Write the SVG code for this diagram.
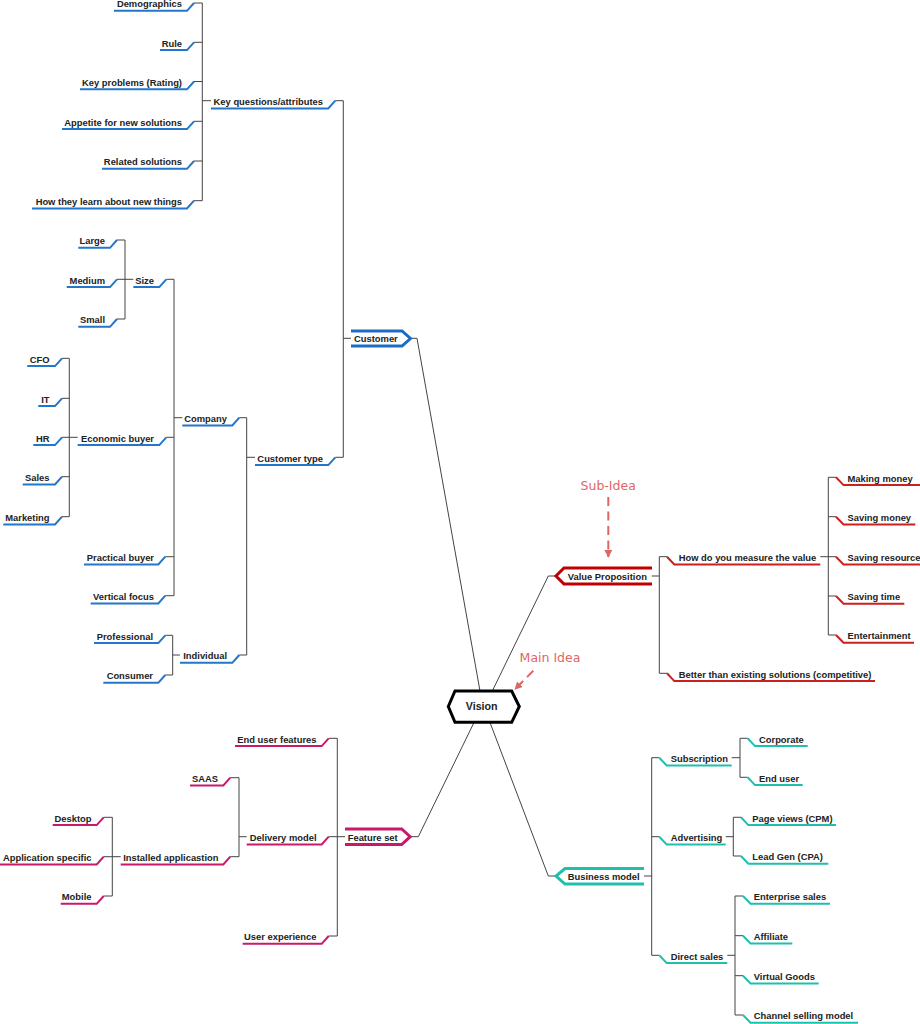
<svg xmlns="http://www.w3.org/2000/svg" width="920" height="1024" viewBox="0 0 920 1024">
<style>
.c{fill:none;stroke:#444;stroke-width:1}
.u{fill:none;stroke-width:2}
.b{stroke:#2277cc}
.r{stroke:#cc1f1f}
.m{stroke:#c8196b}
.t{stroke:#1fbfae}
.s{fill:none;stroke-width:3;stroke-linejoin:miter}
text{font-family:"Liberation Sans",Arial,sans-serif;font-weight:bold;font-size:9.4px;fill:#222}
.e{text-anchor:end}
.a{font-family:"DejaVu Sans",Verdana,sans-serif;font-weight:normal;font-size:12.5px;fill:#e06666;text-anchor:middle}
.d{fill:none;stroke:#e06666;stroke-width:2;stroke-dasharray:9 5.5}
</style>
<defs>
<marker id="ah" viewBox="0 0 10 10" refX="9" refY="5" markerWidth="4" markerHeight="4" orient="auto" markerUnits="strokeWidth">
<path d="M0,0 L10,5 L0,10 z" fill="#e06666"/>
</marker>
</defs>
<rect width="920" height="1024" fill="#fff"/>
<g id="connectors">
<path class="c" d="M480,691 L417,338.3 H411 M492.3,691 L548.3,576 H556 M474,722.5 L418.3,836.7 H410.7 M490,722.5 L548.3,876 H555.7"/>
<path class="c" d="M202.3,3 V200.7 M194,3 H202.3 M194,42.3 H202.3 M194,81.5 H202.3 M194,121.3 H202.3 M194,161 H202.3 M194,200.7 H202.3 M202.3,100.7 H211 M335.3,100.7 H343.3"/>
<path class="c" d="M343.3,100.7 V457.3 M343.3,338.3 H351 M335.3,457.3 H343.3 M246.7,457.3 H255"/>
<path class="c" d="M246.7,417.7 V655 M239.3,417.7 H246.7 M239.3,655 H246.7 M174,417.7 H182.3 M172.7,655 H180"/>
<path class="c" d="M174,279.3 V595.7 M166.3,279.3 H174 M166.3,437.3 H174 M165.3,556.7 H174 M165.3,595.7 H174 M125,279.3 H133.3 M69.3,437.3 H77.7"/>
<path class="c" d="M125,240 V319 M117,240 H125 M117,279.3 H125 M117,319 H125"/>
<path class="c" d="M69.3,358.3 V516.7 M62,358.3 H69.3 M62,398.3 H69.3 M62,437.3 H69.3 M62,476.7 H69.3 M62,516.7 H69.3"/>
<path class="c" d="M172.7,635.3 V675 M165.3,635.3 H172.7 M165.3,675 H172.7"/>
<path class="c" d="M337.3,738.3 V936 M328.7,738.3 H337.3 M328.7,836.7 H345 M328.7,936 H337.3 M239,836.7 H246.7"/>
<path class="c" d="M239,777.7 V856.7 M230.3,777.7 H239 M230.3,856.7 H239 M112.3,856.7 H120.7"/>
<path class="c" d="M112.3,817.3 V896 M103.7,817.3 H112.3 M103.7,856.7 H112.3 M103.7,896 H112.3"/>
<path class="c" d="M651.7,576 H659.3 M659.3,556.7 V673.3 M659.3,556.7 H667 M659.3,673.3 H667 M820.3,556.7 H828.3"/>
<path class="c" d="M828.3,477.3 V635 M828.3,477.3 H836 M828.3,516.7 H836 M828.3,556.7 H836 M828.3,596 H836 M828.3,635 H836"/>
<path class="c" d="M644,876 H651.7 M651.7,757.7 V955.3 M651.7,757.7 H659.3 M651.7,836.7 H659.3 M651.7,955.3 H659.3 M731.7,757.7 H740 M725.7,836.7 H733.3 M727.3,955.3 H735"/>
<path class="c" d="M740,738.3 V777.3 M740,738.3 H747.7 M740,777.3 H747.7 M733.3,817.3 V856 M733.3,817.3 H741 M733.3,856 H741"/>
<path class="c" d="M735,896 V1015 M735,896 H743 M735,935.7 H743 M735,975.7 H743 M735,1015 H743"/>
</g>
<g id="annotations">
<text class="a" x="608.2" y="490">Sub-Idea</text>
<path class="d" d="M608.3,497 V557" marker-end="url(#ah)"/>
<text class="a" x="550" y="662">Main Idea</text>
<path class="d" d="M533.3,670.7 L515,689.3" marker-end="url(#ah)"/>
</g>
<g id="vision">
<polygon points="448.3,706.5 455,691 511.7,691 519.3,706.5 511.7,722.3 455,722.3" fill="#fff" stroke="#000" stroke-width="3"/>
<text x="481.7" y="710.3" text-anchor="middle" style="font-size:10.7px">Vision</text>
</g>
<g id="customer">
<polyline class="s b" points="351,331 402,331 410.5,338.5 402,346 351,346" style="stroke:#1a6cc4"/>
<text x="354" y="342.3">Customer</text>
</g>
<g id="value-proposition">
<polyline class="s" points="652,568 564,568 556,576 564,584 652,584" style="stroke:#c00000"/>
<text x="567.7" y="579.6">Value Proposition</text>
</g>
<g id="feature-set">
<polyline class="s m" points="345,829 401.7,829 410.2,836.7 401.7,844.5 345,844.5"/>
<text x="347.7" y="840.5">Feature set</text>
</g>
<g id="business-model">
<polyline class="s t" points="644,868.5 565,868.5 556,876 565,884 644,884"/>
<text x="567.7" y="879.6">Business model</text>
</g>
<g id="demographics"><path class="u b" d="M114,10.8 H187 L194,3"/><text class="e" x="182" y="7.3">Demographics</text></g>
<g id="rule"><path class="u b" d="M160,50.1 H187 L194,42.3"/><text class="e" x="182" y="46.6">Rule</text></g>
<g id="key-problems"><path class="u b" d="M80,89.3 H187 L194,81.5"/><text class="e" x="182" y="85.8">Key problems (Rating)</text></g>
<g id="appetite"><path class="u b" d="M62,129.1 H187 L194,121.3"/><text class="e" x="182" y="125.6">Appetite for new solutions</text></g>
<g id="related"><path class="u b" d="M102,168.8 H187 L194,161"/><text class="e" x="182" y="165.3">Related solutions</text></g>
<g id="how-they-learn"><path class="u b" d="M32,208.5 H187 L194,200.7"/><text class="e" x="182" y="205">How they learn about new things</text></g>
<g id="key-questions"><path class="u b" d="M211,108.5 H328.3 L335.3,100.7"/><text class="e" x="323" y="105">Key questions/attributes</text></g>
<g id="customer-type"><path class="u b" d="M255,465.1 H328.3 L335.3,457.3"/><text class="e" x="323" y="461.6">Customer type</text></g>
<g id="company"><path class="u b" d="M182.3,425.5 H232.3 L239.3,417.7"/><text class="e" x="227" y="422">Company</text></g>
<g id="individual"><path class="u b" d="M180,662.8 H232.3 L239.3,655"/><text class="e" x="227" y="659.3">Individual</text></g>
<g id="size"><path class="u b" d="M133.3,287.1 H159.3 L166.3,279.3"/><text class="e" x="154" y="283.6">Size</text></g>
<g id="economic-buyer"><path class="u b" d="M77.7,445.1 H159.3 L166.3,437.3"/><text class="e" x="154" y="441.6">Economic buyer</text></g>
<g id="practical-buyer"><path class="u b" d="M84,564.5 H158.3 L165.3,556.7"/><text class="e" x="154" y="561">Practical buyer</text></g>
<g id="vertical-focus"><path class="u b" d="M90.7,603.5 H158.3 L165.3,595.7"/><text class="e" x="154" y="600">Vertical focus</text></g>
<g id="large"><path class="u b" d="M78.3,247.8 H110 L117,240"/><text class="e" x="105" y="244.3">Large</text></g>
<g id="medium"><path class="u b" d="M66.7,287.1 H110 L117,279.3"/><text class="e" x="105" y="283.6">Medium</text></g>
<g id="small"><path class="u b" d="M78.3,326.8 H110 L117,319"/><text class="e" x="105" y="323.3">Small</text></g>
<g id="cfo"><path class="u b" d="M27.3,366.1 H55 L62,358.3"/><text class="e" x="49.5" y="362.6">CFO</text></g>
<g id="it"><path class="u b" d="M38.3,406.1 H55 L62,398.3"/><text class="e" x="49.5" y="402.6">IT</text></g>
<g id="hr"><path class="u b" d="M33.3,445.1 H55 L62,437.3"/><text class="e" x="49.5" y="441.6">HR</text></g>
<g id="sales"><path class="u b" d="M22.7,484.5 H55 L62,476.7"/><text class="e" x="49.5" y="481">Sales</text></g>
<g id="marketing"><path class="u b" d="M3.3,524.5 H55 L62,516.7"/><text class="e" x="49.5" y="521">Marketing</text></g>
<g id="professional"><path class="u b" d="M94,643.1 H158.3 L165.3,635.3"/><text class="e" x="153" y="639.6">Professional</text></g>
<g id="consumer"><path class="u b" d="M103.3,682.8 H158.3 L165.3,675"/><text class="e" x="153" y="679.3">Consumer</text></g>
<g id="end-user-features"><path class="u m" d="M235,746.1 H321.7 L328.7,738.3"/><text class="e" x="316.5" y="742.6">End user features</text></g>
<g id="delivery-model"><path class="u m" d="M246.7,844.5 H321.7 L328.7,836.7"/><text class="e" x="316.5" y="841">Delivery model</text></g>
<g id="user-experience"><path class="u m" d="M242.7,943.8 H321.7 L328.7,936"/><text class="e" x="316.5" y="940.3">User experience</text></g>
<g id="saas"><path class="u m" d="M190,785.5 H223.3 L230.3,777.7"/><text class="e" x="218" y="782">SAAS</text></g>
<g id="installed"><path class="u m" d="M120.7,864.5 H223.3 L230.3,856.7"/><text class="e" x="218.5" y="861">Installed applicastion</text></g>
<g id="desktop"><path class="u m" d="M52.7,825.1 H96.7 L103.7,817.3"/><text class="e" x="91.5" y="821.6">Desktop</text></g>
<g id="application-specific"><path class="u m" d="M0,864.5 H96.7 L103.7,856.7"/><text class="e" x="91.5" y="861">Application specific</text></g>
<g id="mobile"><path class="u m" d="M60.7,903.8 H96.7 L103.7,896"/><text class="e" x="91.5" y="900.3">Mobile</text></g>
<g id="how-measure"><path class="u r" d="M667,556.7 L674.3,564.5 H820.3"/><text x="678.7" y="560.9">How do you measure the value</text></g>
<g id="better"><path class="u r" d="M667,673.3 L674.3,681.1 H875"/><text x="678.7" y="677.5">Better than existing solutions (competitive)</text></g>
<g id="making-money"><path class="u r" d="M836,477.3 L843.5,485.1 H920"/><text x="847.5" y="481.5">Making money</text></g>
<g id="saving-money"><path class="u r" d="M836,516.7 L843.5,524.5 H915.3"/><text x="847.5" y="520.9">Saving money</text></g>
<g id="saving-resources"><path class="u r" d="M836,556.7 L843.5,564.5 H925"/><text x="847.5" y="560.9">Saving resources</text></g>
<g id="saving-time"><path class="u r" d="M836,596 L843.5,603.8 H904.3"/><text x="847.5" y="600.2">Saving time</text></g>
<g id="entertainment"><path class="u r" d="M836,635 L843.5,642.8 H914"/><text x="847.5" y="639.2">Entertainment</text></g>
<g id="subscription"><path class="u t" d="M659.3,757.7 L666.7,765.5 H731.7"/><text x="670.7" y="761.9">Subscription</text></g>
<g id="advertising"><path class="u t" d="M659.3,836.7 L666.7,844.5 H725.7"/><text x="670.7" y="840.9">Advertising</text></g>
<g id="direct-sales"><path class="u t" d="M659.3,955.3 L666.7,963.1 H727.3"/><text x="670.7" y="959.5">Direct sales</text></g>
<g id="corporate"><path class="u t" d="M747.7,738.3 L755,746.1 H807.7"/><text x="759" y="742.5">Corporate</text></g>
<g id="end-user"><path class="u t" d="M747.7,777.3 L755,785.1 H802.7"/><text x="759" y="781.5">End user</text></g>
<g id="page-views"><path class="u t" d="M741,817.3 L748.3,825.1 H836"/><text x="752.3" y="821.5">Page views (CPM)</text></g>
<g id="lead-gen"><path class="u t" d="M741,856 L748.3,863.8 H828.3"/><text x="752.3" y="860.2">Lead Gen (CPA)</text></g>
<g id="enterprise-sales"><path class="u t" d="M743,896 L750.5,903.8 H830"/><text x="753.7" y="900.2">Enterprise sales</text></g>
<g id="affiliate"><path class="u t" d="M743,935.7 L750.5,943.5 H792.3"/><text x="753.7" y="939.9">Affiliate</text></g>
<g id="virtual-goods"><path class="u t" d="M743,975.7 L750.5,983.5 H818.7"/><text x="753.7" y="979.9">Virtual Goods</text></g>
<g id="channel-selling"><path class="u t" d="M743,1015 L750.5,1022.8 H858"/><text x="753.7" y="1019.2">Channel selling model</text></g>
</svg>
